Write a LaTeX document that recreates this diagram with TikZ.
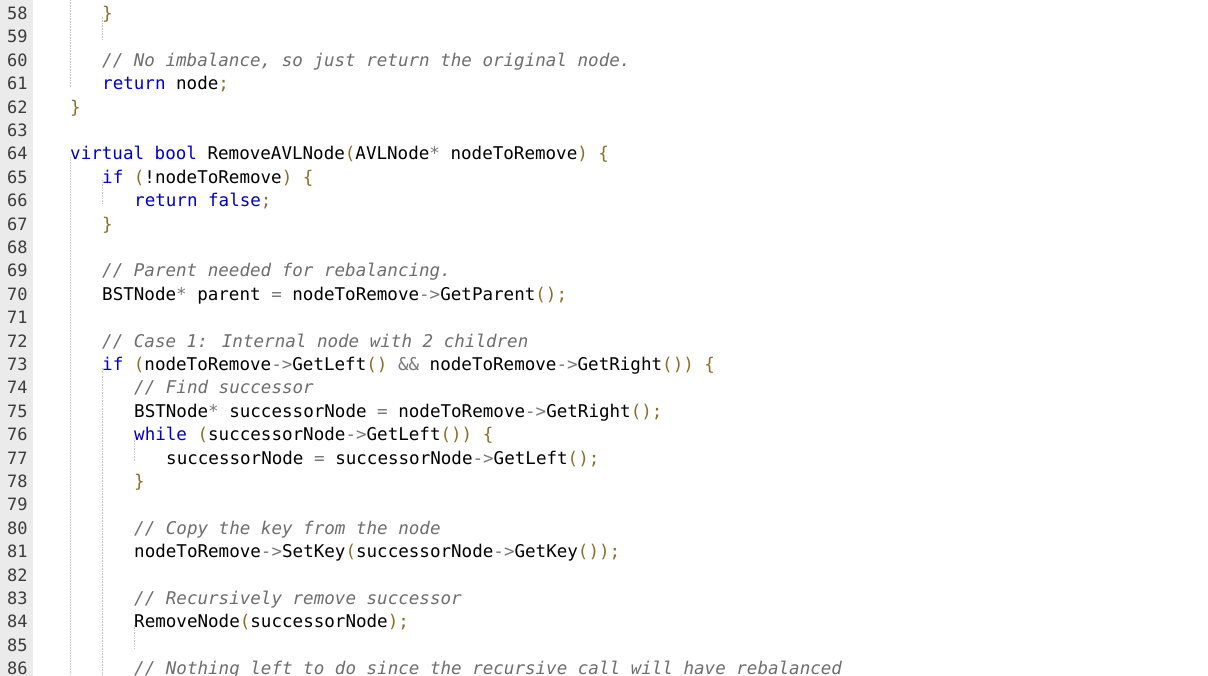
\documentclass[tikz,border=0pt]{standalone}
\usepackage{fontspec}
\newfontfamily\codefont{DejaVu Sans Mono}
\definecolor{kw}{RGB}{0,0,200}
\definecolor{cm}{RGB}{110,110,110}
\definecolor{pn}{RGB}{140,110,40}
\definecolor{op}{RGB}{120,120,120}
\definecolor{gut}{RGB}{235,235,235}
\definecolor{lnum}{RGB}{60,60,60}
\newcommand\kwd[1]{\textcolor{kw}{#1}}
\newcommand\cmt[1]{\textcolor{cm}{\itshape #1}}
\newcommand\pun[1]{\textcolor{pn}{#1}}
\newcommand\opr[1]{\textcolor{op}{#1}}
\begin{document}
\begin{tikzpicture}[x=1pt,y=-1pt,
  code/.style={anchor=base west,inner sep=0pt,font=\codefont\fontsize{17.55}{20}\selectfont},
  num/.style={anchor=base west,inner sep=0pt,text=lnum,font=\codefont\fontsize{17}{20}\selectfont},
  guide/.style={draw=black!22,densely dotted,line width=0.6pt}]
\useasboundingbox (0,0) rectangle (1208,676);
\clip (0,0) rectangle (1208,676);
\fill[white] (0,0) rectangle (1208,676);
\fill[gut] (0,0) rectangle (33,676);
\def\lh{23.4}
\def\by{19.5}
\foreach \n [count=\i from 0] in {58,...,86}{
  \node[num] (n\n) at (7,{\by+\lh*\i}) {\n};
}
% indent guides
\draw[guide] (70,0) -- (70,{\lh*3.5+5});
\draw[guide] (102,{\lh*0.5+5}) -- (102,{\lh*1.5+5});
\draw[guide] (70,{\lh*6.5+5}) -- (70,676);
\draw[guide] (102,{\lh*7.5+5}) -- (102,{\lh*8.5+5});
\draw[guide] (102,{\lh*15.5+5}) -- (102,676);
\draw[guide] (134,{\lh*18.5+5}) -- (134,{\lh*19.5+5});
\draw[guide] (134,{\lh*26.5+5}) -- (134,{\lh*27.5+5});
\newcommand\codeline[3]{\node[code] (c#1) at ({38+32*#2},{\by+\lh*(#1-58)}) {#3};}
\codeline{58}{2}{\pun{\}}}
\codeline{60}{2}{\cmt{// No imbalance, so just return the original node.}}
\codeline{61}{2}{\kwd{return} node\pun{;}}
\codeline{62}{1}{\pun{\}}}
\codeline{64}{1}{\kwd{virtual} \kwd{bool} RemoveAVLNode\pun{(}AVLNode\opr{*} nodeToRemove\pun{)} \pun{\{}}
\codeline{65}{2}{\kwd{if} \pun{(}!nodeToRemove\pun{)} \pun{\{}}
\codeline{66}{3}{\kwd{return} \kwd{false}\pun{;}}
\codeline{67}{2}{\pun{\}}}
\codeline{69}{2}{\cmt{// Parent needed for rebalancing.}}
\codeline{70}{2}{BSTNode\opr{*} parent \opr{=} nodeToRemove\opr{->}GetParent\pun{();}}
\codeline{72}{2}{\cmt{// Case 1: Internal node with 2 children}}
\codeline{73}{2}{\kwd{if} \pun{(}nodeToRemove\opr{->}GetLeft\pun{()} \opr{\&\&} nodeToRemove\opr{->}GetRight\pun{())} \pun{\{}}
\codeline{74}{3}{\cmt{// Find successor}}
\codeline{75}{3}{BSTNode\opr{*} successorNode \opr{=} nodeToRemove\opr{->}GetRight\pun{();}}
\codeline{76}{3}{\kwd{while} \pun{(}successorNode\opr{->}GetLeft\pun{())} \pun{\{}}
\codeline{77}{4}{successorNode \opr{=} successorNode\opr{->}GetLeft\pun{();}}
\codeline{78}{3}{\pun{\}}}
\codeline{80}{3}{\cmt{// Copy the key from the node}}
\codeline{81}{3}{nodeToRemove\opr{->}SetKey\pun{(}successorNode\opr{->}GetKey\pun{());}}
\codeline{83}{3}{\cmt{// Recursively remove successor}}
\codeline{84}{3}{RemoveNode\pun{(}successorNode\pun{);}}
\codeline{86}{3}{\cmt{// Nothing left to do since the recursive call will have rebalanced}}
\end{tikzpicture}
\end{document}
